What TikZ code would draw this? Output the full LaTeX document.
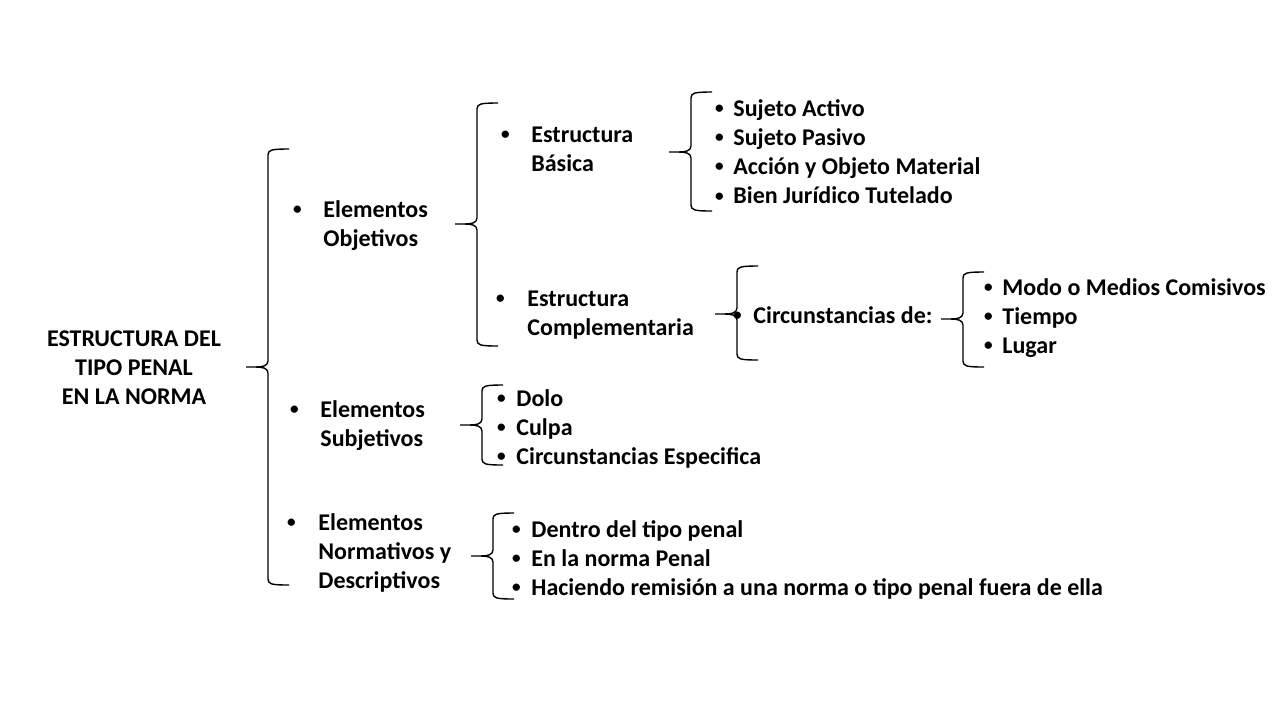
\documentclass[tikz,border=0pt]{standalone}
\usepackage{fontspec}
\setmainfont{Carlito}
\usetikzlibrary{positioning}
\newcommand{\bul}{\makebox[6pt]{\raisebox{1.4pt}{\fontsize{8.6}{8.6}\selectfont\textbullet}}}
\newcommand{\curlybrace}[4]{%
\draw[curly] (#1+21,#2) .. controls (#1+3,#2) and (#1,#2+1) .. (#1,#2+6) -- (#1,#4-6) .. controls (#1,#4-1) and (#1-6,#4) .. (#1-12,#4) -- (#1-22,#4);
\draw[curly] (#1-12,#4) .. controls (#1-6,#4) and (#1,#4+1) .. (#1,#4+6) -- (#1,#3-6) .. controls (#1,#3-1) and (#1+3,#3) .. (#1+21,#3);}

\begin{document}
\begin{tikzpicture}[x=0.5pt,y=-0.5pt,
  curly/.style={line width=0.7pt, line join=round},
  txt/.style={inner sep=0pt, font=\fontsize{12}{14.65}\selectfont\bfseries},
  lvl/.style={txt, anchor=base west}]
\useasboundingbox (0,0) rectangle (1280,720);
% titulo
\node[txt, anchor=base] (title) at (134,346) {\begin{tabular}[t]{@{}c@{}}ESTRUCTURA DEL\\TIPO PENAL\\EN LA NORMA\end{tabular}};
% primer nivel
\node[lvl] (objetivos) at (291,217) {\begin{tabular}[t]{@{}l@{\hspace{10pt}}l@{}}\bul & Elementos\\ & Objetivos\end{tabular}};
\node[lvl] (subjetivos) at (288,417) {\begin{tabular}[t]{@{}l@{\hspace{10pt}}l@{}}\bul & Elementos\\ & Subjetivos\end{tabular}};
\node[lvl] (normativos) at (285,530) {\begin{tabular}[t]{@{}l@{\hspace{10.5pt}}l@{}}\bul & Elementos\\ & Normativos y\\ & Descriptivos\end{tabular}};
% estructuras
\node[lvl] (basica) at (499,142) {\begin{tabular}[t]{@{}l@{\hspace{10pt}}l@{}}\bul & Estructura\\ & Básica\end{tabular}};
\node[lvl] (complementaria) at (494,306) {\begin{tabular}[t]{@{}l@{\hspace{10.5pt}}l@{}}\bul & Estructura\\ & Complementaria\end{tabular}};
\node[lvl] (circunst) at (731,323) {\begin{tabular}[t]{@{}l@{\hspace{5pt}}l@{}}\bul & Circunstancias de:\end{tabular}};
% listas
\node[lvl] (listbasica) at (713,116) {\begin{tabular}[t]{@{}l@{\hspace{4pt}}l@{}}\bul & Sujeto Activo\\ \bul & Sujeto Pasivo\\ \bul & Acción y Objeto Material\\ \bul & Bien Jurídico Tutelado\end{tabular}};
\node[lvl] (listcirc) at (982,295) {\begin{tabular}[t]{@{}l@{\hspace{4pt}}l@{}}\bul & Modo o Medios Comisivos\\ \bul & Tiempo\\ \bul & Lugar\end{tabular}};
\node[lvl] (listsubj) at (495,406) {\begin{tabular}[t]{@{}l@{\hspace{4.5pt}}l@{}}\bul & Dolo\\ \bul & Culpa\\ \bul & Circunstancias Especifica\end{tabular}};
\node[lvl] (listnorm) at (510,537) {\begin{tabular}[t]{@{}l@{\hspace{4.5pt}}l@{}}\bul & Dentro del tipo penal\\ \bul & En la norma Penal\\ \bul & Haciendo remisión a una norma o tipo penal fuera de ella\end{tabular}};
% llaves
\curlybrace{268}{149}{585}{367}
\curlybrace{477}{103}{346}{224}
\curlybrace{691}{92}{211}{152}
\curlybrace{737}{266}{360}{314}
\curlybrace{963}{272}{367}{319}
\curlybrace{482}{385}{465}{425}
\curlybrace{493}{513}{599}{556}
\end{tikzpicture}
\end{document}
